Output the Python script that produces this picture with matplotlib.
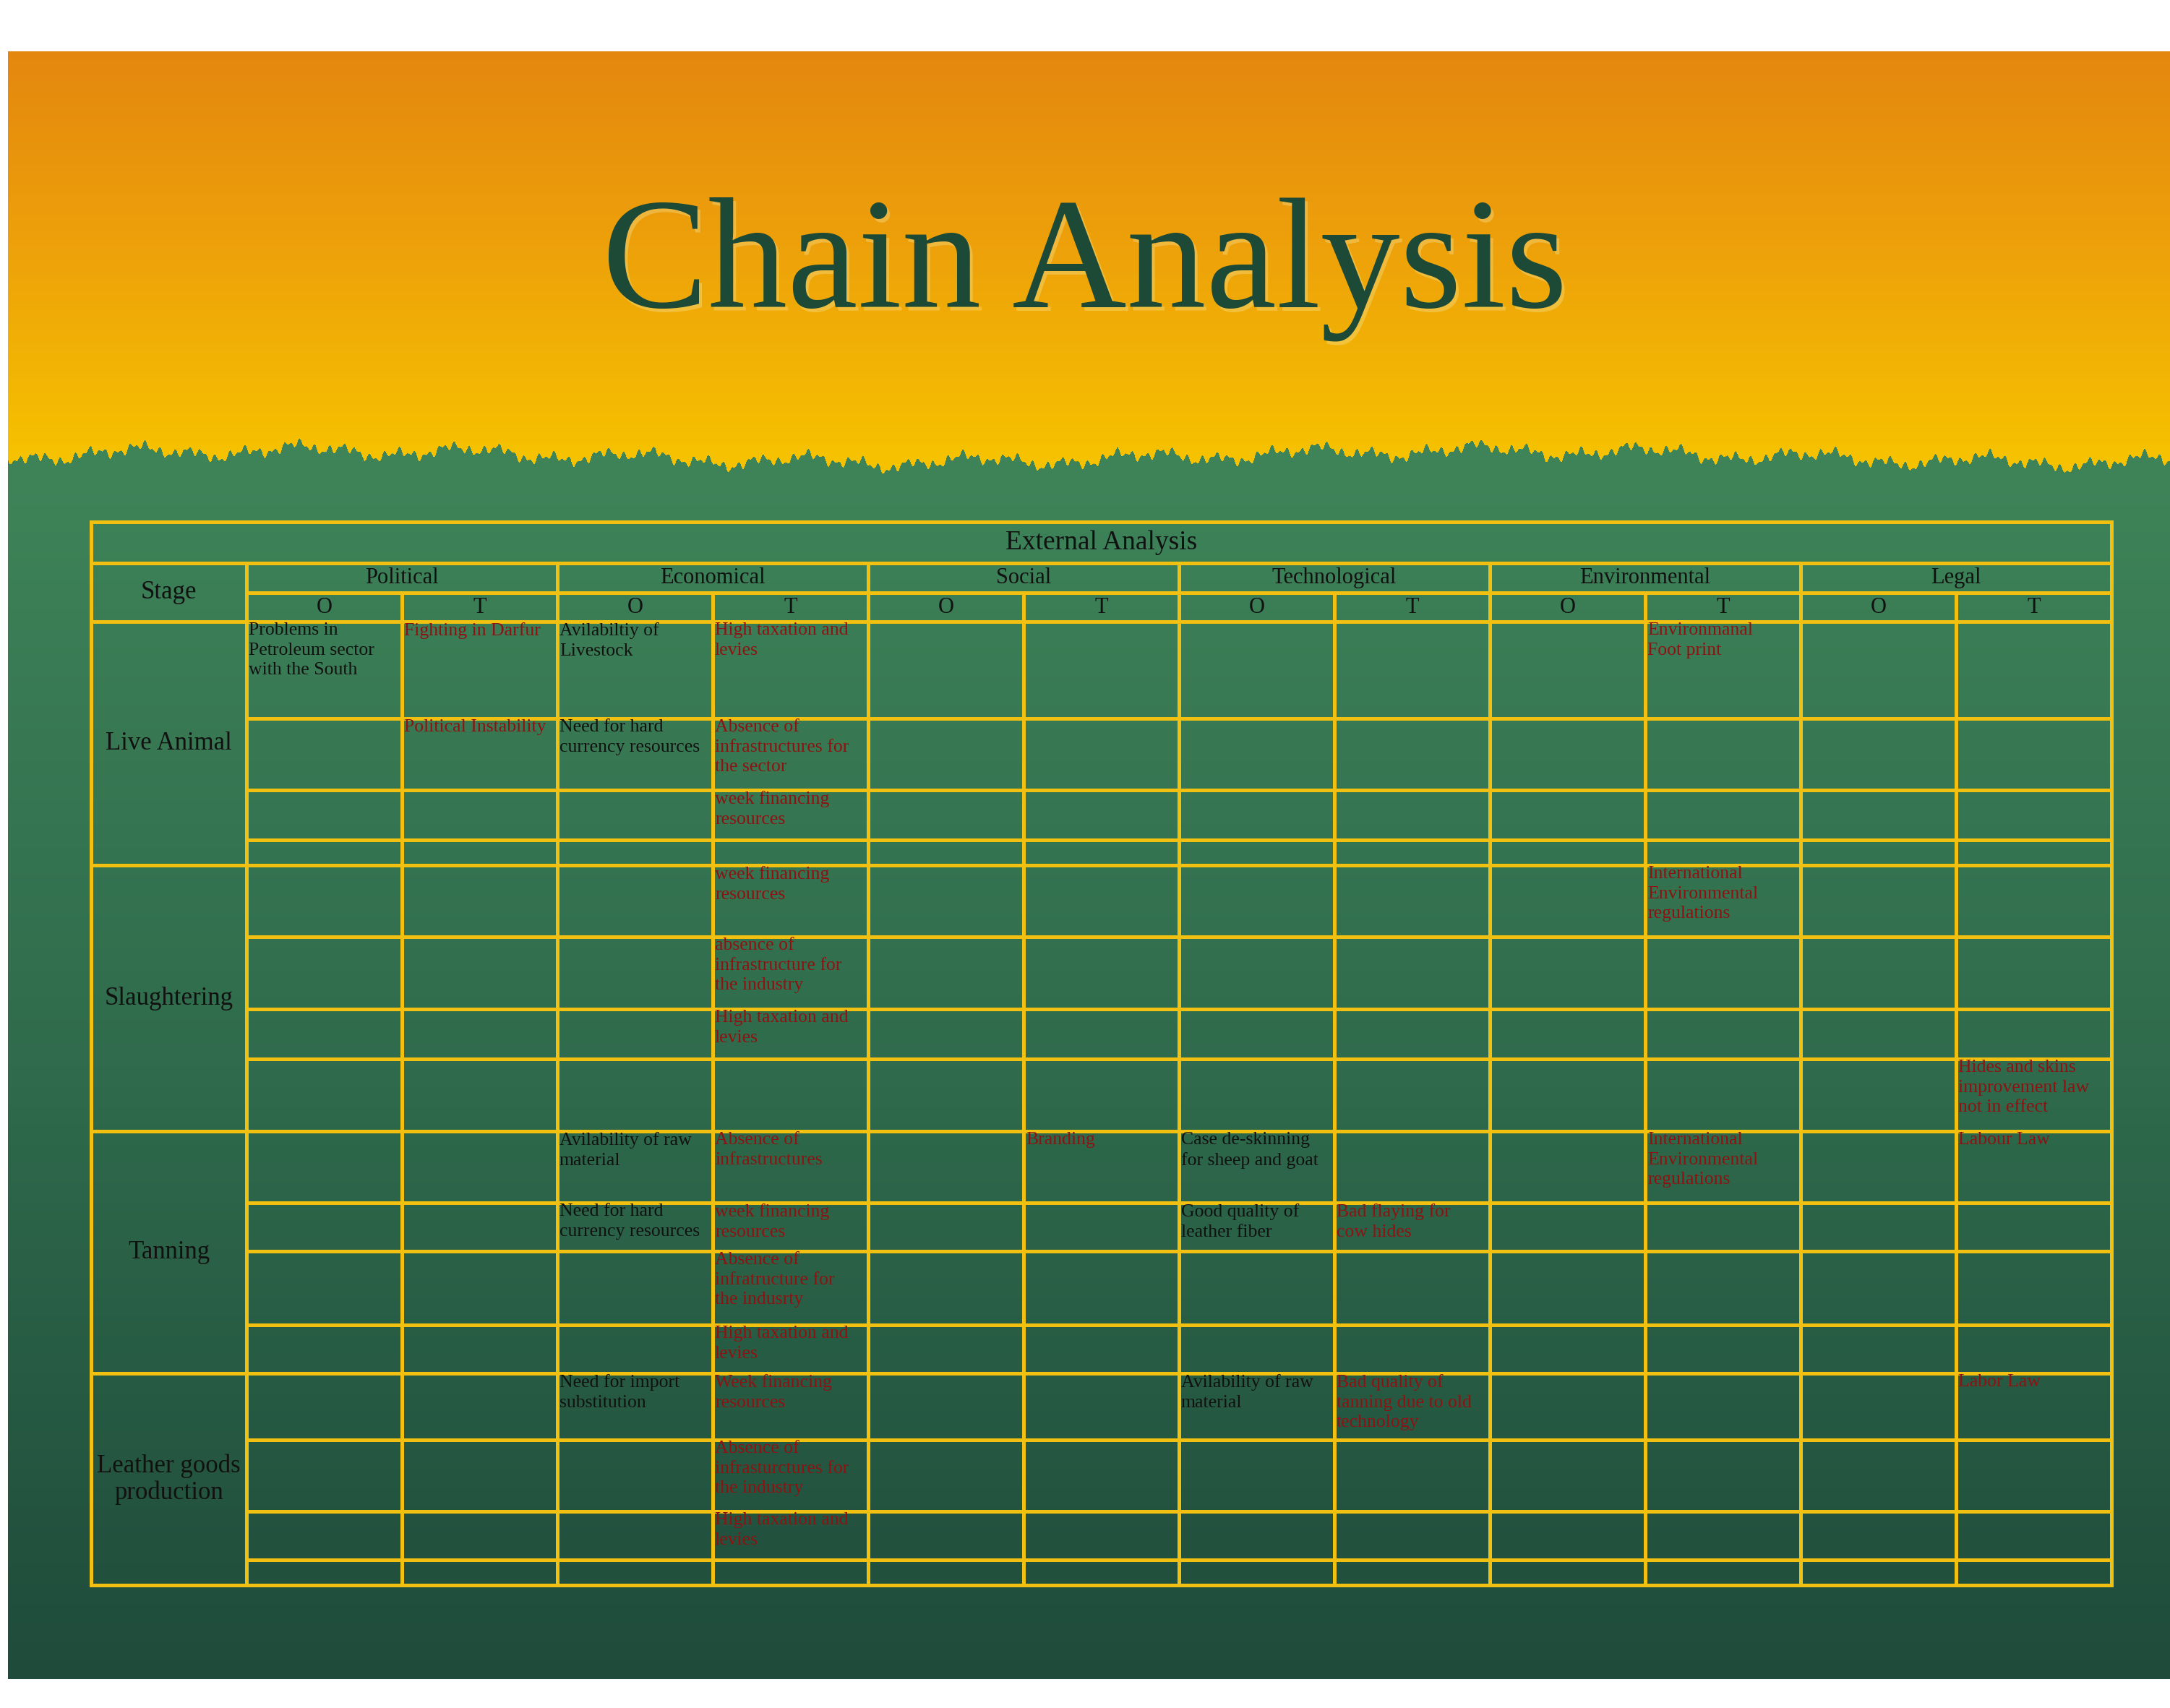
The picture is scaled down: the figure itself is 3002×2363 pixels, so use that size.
import numpy as np
import matplotlib.pyplot as plt
from matplotlib.colors import LinearSegmentedColormap

# ---------------------------
# table content
# ---------------------------
title = "Chain Analysis"
dimensions = ["Political", "Economical", "Social", "Technological", "Environmental", "Legal"]
sub_cols = ["O", "T"]
stages = ["Live Animal", "Slaughtering", "Tanning", "Leather goods\nproduction"]
stage_rows = [(0, 4), (4, 8), (8, 12), (12, 16)]

# row edges (pixels, from the slide) -- body rows
row_edges = [860, 994, 1093, 1162, 1197, 1296, 1396, 1465, 1565,
             1664, 1731, 1833, 1900, 1992, 2091, 2158, 2193]

# (row, col, text, is_threat)
cells = [
    (0, 0, "Problems in\nPetroleum sector\nwith the South", False),
    (0, 1, "Fighting in Darfur", True),
    (0, 2, "Avilabiltiy of\nLivestock", False),
    (0, 3, "High taxation and\nlevies", True),
    (0, 9, "Environmanal\nFoot print", True),
    (1, 1, "Political Instability", True),
    (1, 2, "Need for hard\ncurrency resources", False),
    (1, 3, "Absence of\ninfrastructures for\nthe sector", True),
    (2, 3, "week financing\nresources", True),
    (4, 3, "week financing\nresources", True),
    (4, 9, "International\nEnvironmental\nregulations", True),
    (5, 3, "absence of\ninfrastructure for\nthe industry", True),
    (6, 3, "High taxation and\nlevies", True),
    (7, 11, "Hides and skins\nimprovement law\nnot in effect", True),
    (8, 2, "Avilability of raw\nmaterial", False),
    (8, 3, "Absence of\ninfrastructures", True),
    (8, 5, "Branding", True),
    (8, 6, "Case de-skinning\nfor sheep and goat", False),
    (8, 9, "International\nEnvironmental\nregulations", True),
    (8, 11, "Labour Law", True),
    (9, 2, "Need for hard\ncurrency resources", False),
    (9, 3, "week financing\nresources", True),
    (9, 6, "Good quality of\nleather fiber", False),
    (9, 7, "Bad flaying for\ncow hides", True),
    (10, 3, "Absence of\ninfratructure for\nthe indusrty", True),
    (11, 3, "High taxation and\nlevies", True),
    (12, 2, "Need for import\nsubstitution", False),
    (12, 3, "Week financing\nresources", True),
    (12, 6, "Avilability of raw\nmaterial", False),
    (12, 7, "Bad quality of\ntanning due to old\ntechnology", True),
    (12, 11, "Labor Law", True),
    (13, 3, "Absence of\ninfrasturctures for\nthe industry", True),
    (14, 3, "High taxation and\nlevies", True),
]

# ---------------------------
# layout
# ---------------------------
W, H = 3002, 2363
x0, xs, cw = 126, 341, 215
x_end = xs + 12 * cw
y_top, y_ext, y_dim, y_ot = 722, 779, 820, 860
YEL = "#f2c010"
LW = 3.6
serif = ["Liberation Serif", "DejaVu Serif"]

fig = plt.figure(figsize=(W / 100, H / 100), dpi=100)
ax = fig.add_axes([0, 0, 1, 1])
ax.set_xlim(0, W)
ax.set_ylim(H, 0)
ax.axis("off")

# background: orange top, green bottom with a rough edge
sx0, sy0, sy1 = 11, 71, 2323
ny = sy1 - sy0
yy = np.arange(ny)[:, None]
xx = np.arange(W - sx0)[None, :]
edge = (560 + 6 * np.sin(xx / 37.0) + 5 * np.sin(xx / 11.3 + 1.0) + 4 * np.sin(xx / 3.1)
        + 3 * np.sin(xx / 1.7 + 0.4) - 8 * np.sin(xx / 260.0))
orange = LinearSegmentedColormap.from_list("o", ["#e4870f", "#eea20a", "#f6c200"])
green = LinearSegmentedColormap.from_list("g", ["#3f8459", "#2f6b4c", "#1f4b3b"])
t = np.clip(yy / 560.0, 0, 1) * np.ones_like(xx)
g = np.clip((yy - 560) / (ny - 560), 0, 1) * np.ones_like(xx)
img = np.where((yy < edge)[..., None], orange(t)[..., :3], green(g)[..., :3])
ax.imshow(img, extent=[sx0, W, sy1, sy0], aspect="auto", zorder=0)

# title
ax.text(W / 2 + 4, 372 + 5, title, fontsize=158, family=serif, color="#f6e9a0",
        alpha=0.35, ha="center", va="center", zorder=2)
ax.text(W / 2, 372, title, fontsize=158, family=serif, color="#1d4a36",
        ha="center", va="center", zorder=3)

# grid lines
def hline(y, xa, xb):
    ax.plot([xa, xb], [y, y], color=YEL, lw=LW, zorder=4, solid_capstyle="projecting")

def vline(x, ya, yb):
    ax.plot([x, x], [ya, yb], color=YEL, lw=LW, zorder=4, solid_capstyle="projecting")

hline(y_top, x0, x_end)
hline(y_ext, x0, x_end)
hline(y_dim, xs, x_end)
for a, b in stage_rows:
    hline(row_edges[a], x0, x_end)
for y in row_edges:
    hline(y, xs, x_end)
hline(row_edges[-1], x0, x_end)
vline(x0, y_top, row_edges[-1])
vline(x_end, y_top, row_edges[-1])
vline(xs, y_ext, row_edges[-1])
for j in range(1, 12):
    x = xs + j * cw
    vline(x, y_dim if j % 2 else y_ext, row_edges[-1])

# header texts
ax.text((x0 + x_end) / 2, (y_top + y_ext) / 2, "External Analysis", fontsize=27,
        family=serif, color="#111111", ha="center", va="center", zorder=5)
ax.text((x0 + xs) / 2, (y_ext + y_ot) / 2, "Stage", fontsize=25, family=serif,
        color="#111111", ha="center", va="center", zorder=5)
for k, d in enumerate(dimensions):
    ax.text(xs + (2 * k + 1) * cw, (y_ext + y_dim) / 2, d, fontsize=22, family=serif,
            color="#111111", ha="center", va="center", zorder=5)
    for m, s in enumerate(sub_cols):
        ax.text(xs + (2 * k + m + 0.5) * cw, (y_dim + y_ot) / 2, s, fontsize=22,
                family=serif, color="#111111", ha="center", va="center", zorder=5)

for name, (a, b) in zip(stages, stage_rows):
    ax.text((x0 + xs) / 2, (row_edges[a] + row_edges[b]) / 2, name, fontsize=25,
            family=serif, color="#111111", ha="center", va="center",
            linespacing=1.15, zorder=5)

for r, c, txt, threat in cells:
    ax.text(xs + c * cw + 3, row_edges[r] + 1, txt, fontsize=18.5, family=serif,
            color="#8e1212" if threat else "#111111", ha="left", va="top",
            linespacing=1.33, zorder=5)

fig.savefig("out.png", dpi=100, facecolor="white")
